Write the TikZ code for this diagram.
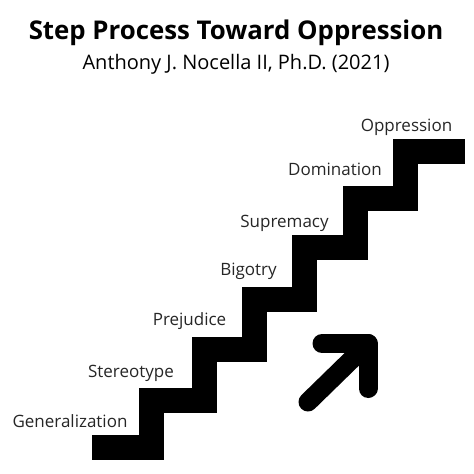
\documentclass[tikz,border=0pt]{standalone}
\usepackage{fontspec}
\setmainfont{Open Sans}
\tikzset{
  steplabel/.style={anchor=base, inner sep=0pt, text=black!85, font=\fontsize{17}{19}\selectfont},
}
\begin{document}
\begin{tikzpicture}[x=1pt, y=-1pt]
  % Fix the page to the reference size
  \useasboundingbox (0, 0) rectangle (474, 474);
  % Title and author line
  \node[anchor=base, inner sep=0pt, font=\fontsize{25.8}{28}\selectfont\bfseries] (title) at (236, 39) {Step Process Toward Oppression};
  \node[anchor=base, inner sep=0pt, font=\fontsize{20}{22}\selectfont] (author) at (236, 69) {Anthony J. Nocella II, Ph.D. (2021)};
  % Draw the staircase as one thick line
  \begin{scope}[line width=25pt, line join=miter]
    \draw (92, 447.5) -- (151.5, 447.5) -- (151.5, 400) -- (204.5, 400)
      -- (204.5, 349.5) -- (254.5, 349.5) -- (254.5, 299) -- (304.5, 299)
      -- (304.5, 247.5) -- (355, 247.5) -- (355, 198.5) -- (405, 198.5)
      -- (405, 151) -- (465, 151);
  \end{scope}
  % Label each step
  \node[steplabel] (general) at (70, 427) {Generalization};
  \node[steplabel] (stereo) at (131, 377) {Stereotype};
  \node[steplabel] (prejud) at (189.5, 325) {Prejudice};
  \node[steplabel] (bigot) at (248.5, 275) {Bigotry};
  \node[steplabel] (suprem) at (284.5, 227) {Supremacy};
  \node[steplabel] (domin) at (335, 175) {Domination};
  \node[steplabel] (oppress) at (406.5, 131) {Oppression};
  % Draw the arrow pointing up the stairs
  \coordinate (tail) at (308, 402);
  \coordinate (tip) at (368, 343.5);
  \begin{scope}[line width=19pt, line cap=round, line join=round]
    \draw (tail) -- (tip);
    \draw (322, 343.5) -- (tip) -- (368, 388.5);
  \end{scope}
\end{tikzpicture}
\end{document}
